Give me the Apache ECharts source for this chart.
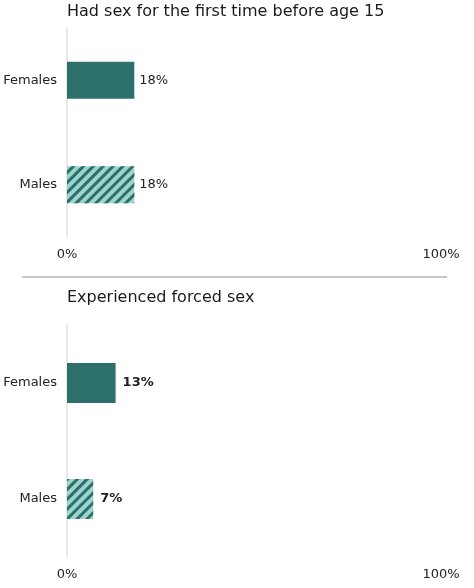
<!DOCTYPE html>
<html><head><meta charset="utf-8">
<script src="https://cdn.jsdelivr.net/npm/echarts@6/dist/echarts.min.js"></script>
<style>html,body{margin:0;padding:0;background:#fff}#c{width:474px;height:588px}</style>
</head><body><div id="c"></div>
<script>
const categories = ['Females', 'Males'];
const firstSexBefore15 = [18, 18];
const forcedSex = [13, 7];
const axisTicks = [0, 100];
const titles = ['Had sex for the first time before age 15', 'Experienced forced sex'];

const FONT = 'DejaVu Sans';
const dark = '#2c6f6b';
const light = '#9dd4cb';
const stripe = {symbol: 'rect', color: dark, dashArrayX: [1, 0], dashArrayY: [3, 3.5], rotation: -Math.PI / 4, symbolSize: 1};

function barData(vals) {
  return vals.map((v, i) => i === 0
    ? {value: v, itemStyle: {color: dark}}
    : {value: v, itemStyle: {color: light, decal: stripe}});
}
const chart = echarts.init(document.getElementById('c'), null, {renderer: 'canvas'});
const xAx = (gi) => ({
  gridIndex: gi, type: 'value', min: axisTicks[0], max: axisTicks[1], interval: 100,
  splitLine: {show: false}, axisLine: {show: false}, axisTick: {show: false},
  axisLabel: {formatter: '{value}%', color: '#222', fontFamily: FONT, fontSize: 13, margin: 11}
});
const yAx = (gi) => ({
  gridIndex: gi, type: 'category', data: categories, inverse: true,
  axisLine: {show: true, lineStyle: {color: '#e2e2e2', width: 1.5}}, axisTick: {show: false},
  axisLabel: {color: '#222', fontFamily: FONT, fontSize: 13, margin: 10}
});
chart.setOption({
  animation: false,
  title: [
    {text: titles[0], left: 67, top: 4, padding: 0, textStyle: {fontFamily: FONT, fontSize: 16, fontWeight: 500, color: '#1a1a1a'}},
    {text: titles[1], left: 67, top: 290, padding: 0, textStyle: {fontFamily: FONT, fontSize: 16, fontWeight: 500, color: '#1a1a1a'}}
  ],
  grid: [
    {left: 67, right: 33, top: 28, height: 209},
    {left: 67, right: 33, top: 325, height: 232}
  ],
  xAxis: [xAx(0), xAx(1)],
  yAxis: [yAx(0), yAx(1)],
  graphic: [{type: 'line', shape: {x1: 22, y1: 277, x2: 447, y2: 277}, style: {stroke: '#b5b5b5', lineWidth: 1.5}}],
  series: [
    {type: 'bar', xAxisIndex: 0, yAxisIndex: 0, data: barData(firstSexBefore15), barWidth: 37,
     label: {show: true, position: 'right', distance: 5, formatter: '{c}%', color: '#222', fontFamily: FONT, fontSize: 13}},
    {type: 'bar', xAxisIndex: 1, yAxisIndex: 1, data: barData(forcedSex), barWidth: 40,
     label: {show: true, position: 'right', distance: 7, formatter: '{c}%', color: '#222', fontFamily: FONT, fontSize: 13, fontWeight: 'bold'}}
  ]
});
</script></body></html>
